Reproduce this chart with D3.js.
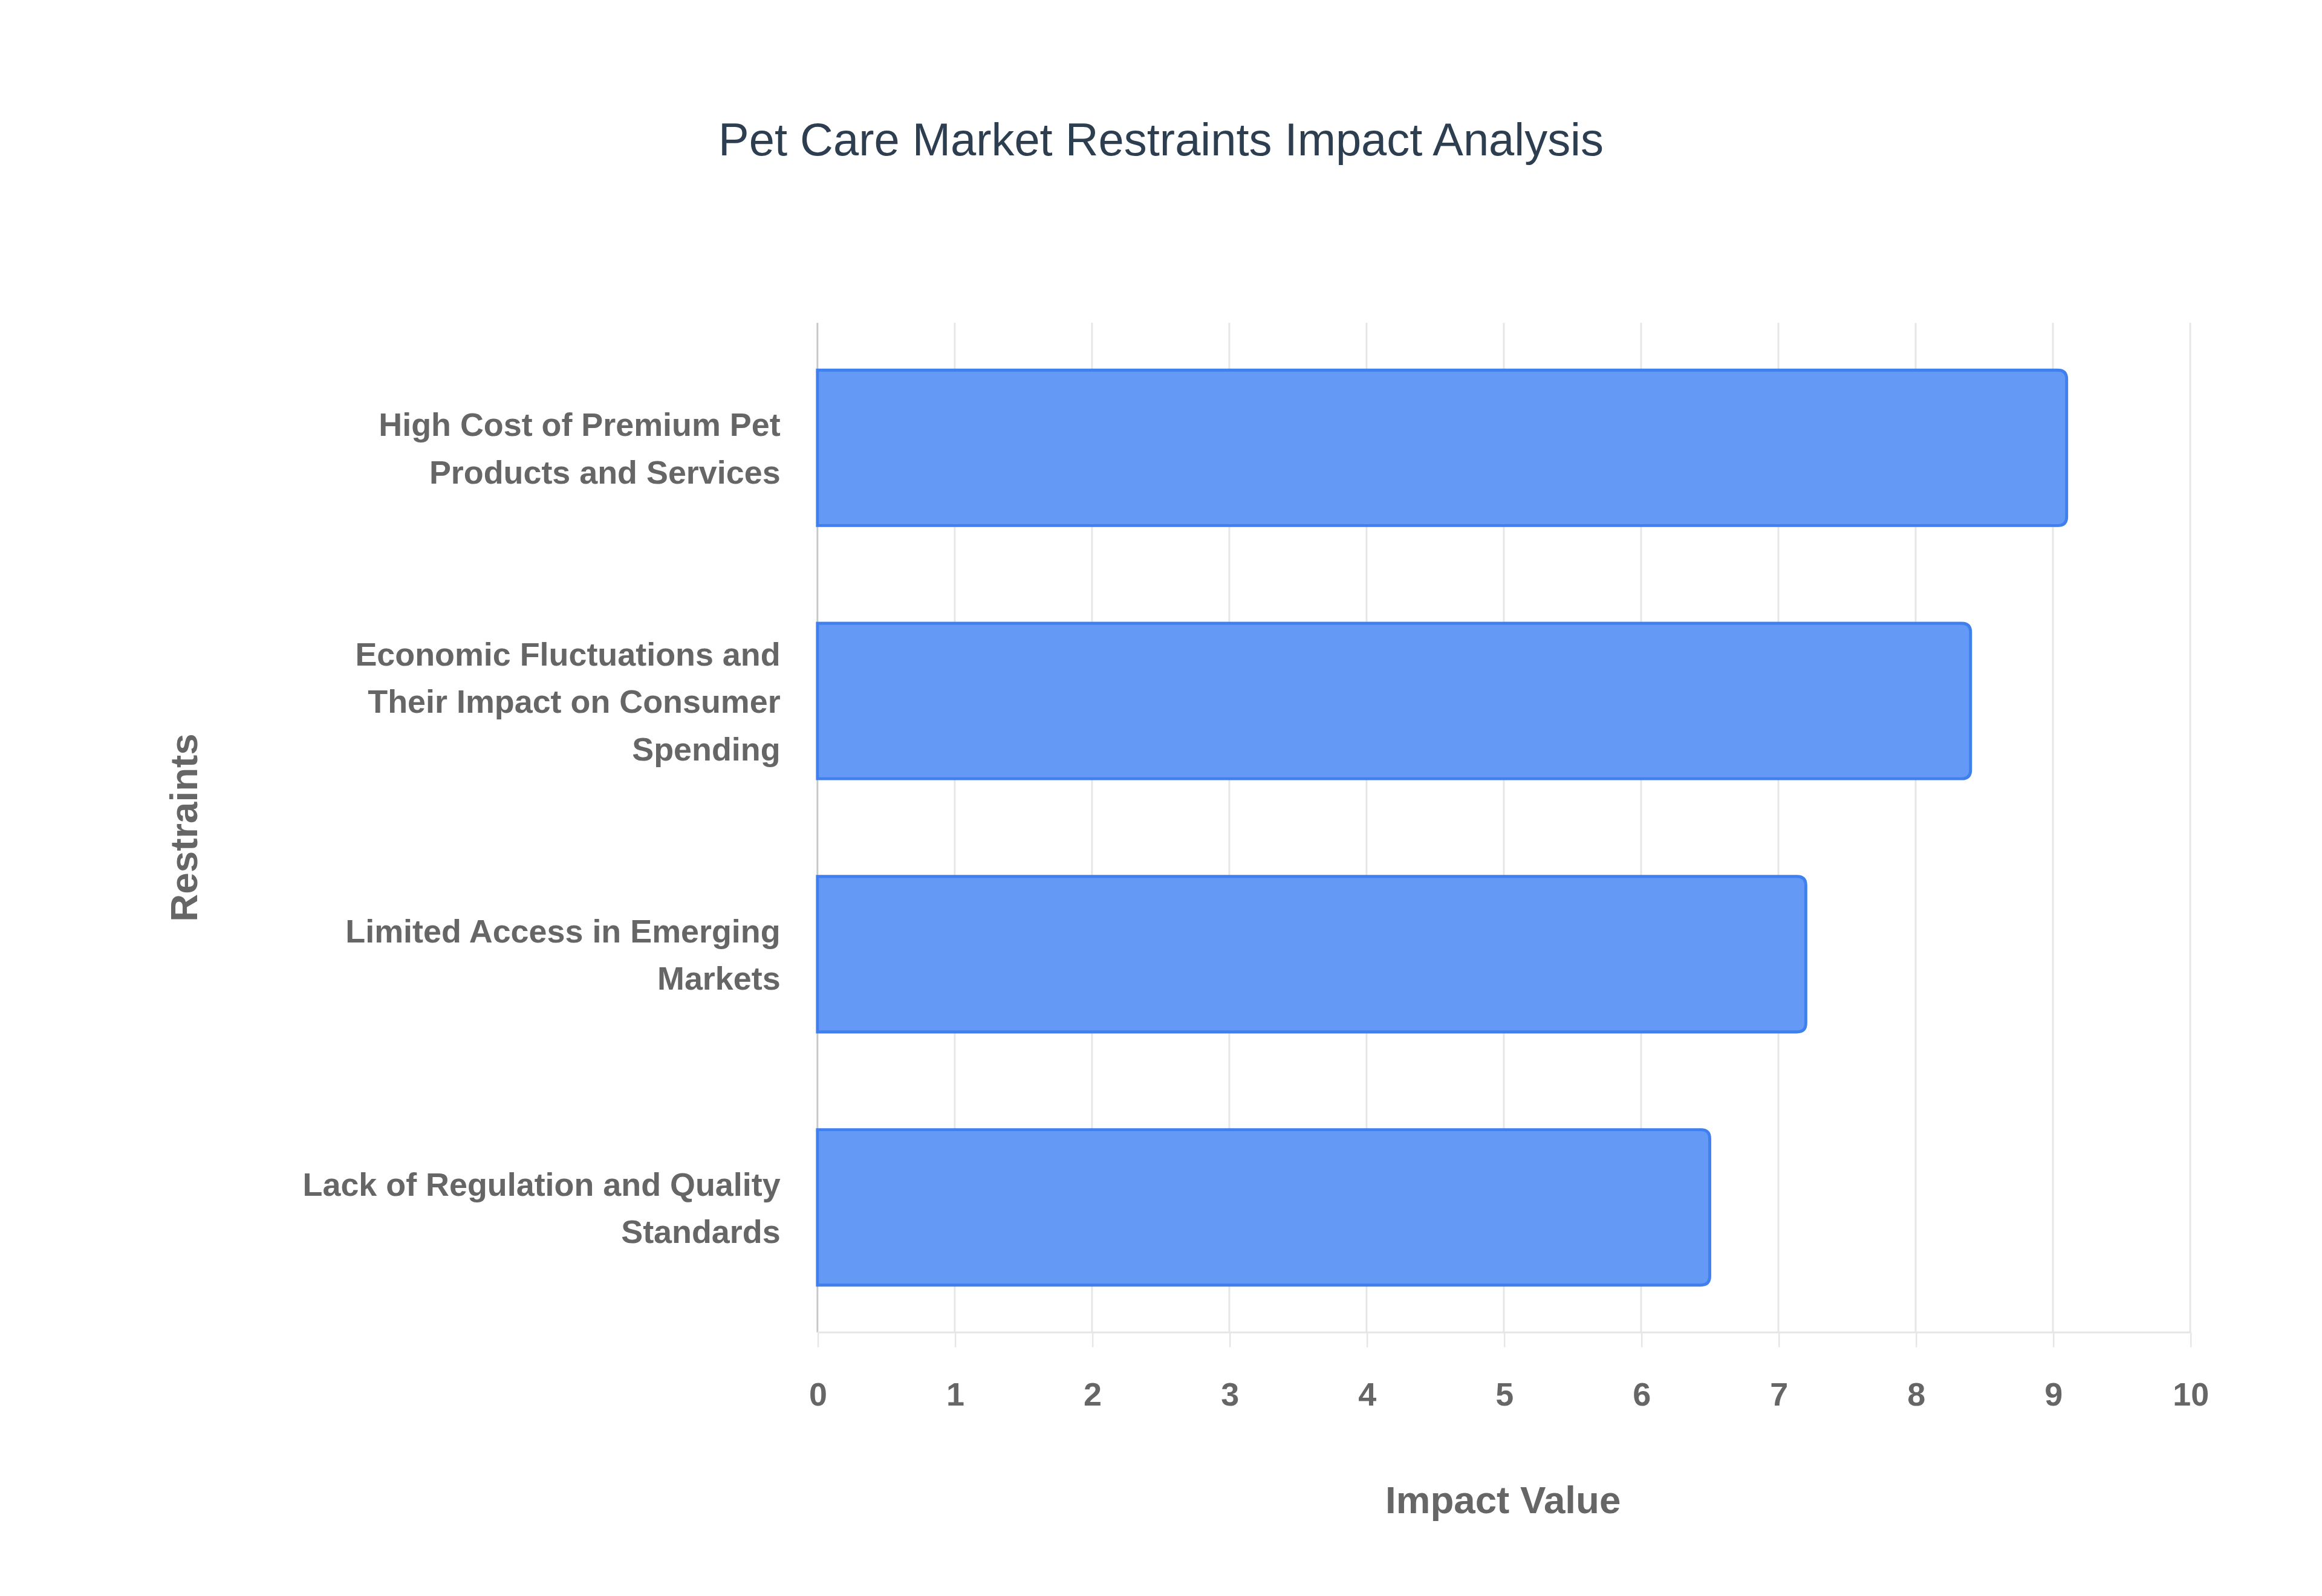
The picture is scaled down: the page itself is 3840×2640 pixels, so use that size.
<!DOCTYPE html>
<html>
<head>
<script src="https://d3js.org/d3.v7.min.js"></script>
<style>
  body { margin: 0; background: #fff; }
  text { font-family: "Liberation Sans", Arial, sans-serif; }
</style>
</head>
<body>
<div id="chart"></div>
<script>
const restraints = [
  "High Cost of Premium Pet Products and Services",
  "Economic Fluctuations and Their Impact on Consumer Spending",
  "Limited Access in Emerging Markets",
  "Lack of Regulation and Quality Standards"
];
const impactValues = [9.1, 8.4, 7.2, 6.5];
const xTicks = [0, 1, 2, 3, 4, 5, 6, 7, 8, 9, 10];

const W = 1568, H = 1078;
const margin = {top: 218, right: 89, bottom: 178, left: 552};

const svg = d3.select("#chart").append("svg")
  .attr("width", 3840).attr("height", 2640)
  .attr("viewBox", `0 0 ${W} ${H}`);

const x = d3.scaleLinear().domain([0, 10]).range([margin.left, W - margin.right]);
const y = d3.scaleBand().domain(restraints).range([margin.top, H - margin.bottom])
  .paddingInner(0.386).paddingOuter(0.187);

// grid
svg.append("g").selectAll("line").data(xTicks).enter().append("line")
  .attr("x1", d => x(d)).attr("x2", d => x(d))
  .attr("y1", margin.top).attr("y2", H - margin.bottom)
  .attr("stroke", d => d === 0 ? "#c8c8c8" : "#e6e6e6").attr("stroke-width", 1.2);
svg.append("line")
  .attr("x1", margin.left).attr("x2", W - margin.right)
  .attr("y1", H - margin.bottom).attr("y2", H - margin.bottom)
  .attr("stroke", "#e6e6e6").attr("stroke-width", 1.2);

// bars with rounded right end
const bars = restraints.map((r, i) => ({key: r, value: impactValues[i]}));
svg.append("g").selectAll("path").data(bars).enter().append("path")
  .attr("d", d => {
    const x0 = x(0), x1 = x(d.value), y0 = y(d.key), h = y.bandwidth(), r = 6;
    return `M${x0},${y0} H${x1 - r} Q${x1},${y0} ${x1},${y0 + r} V${y0 + h - r} Q${x1},${y0 + h} ${x1 - r},${y0 + h} H${x0} Z`;
  })
  .attr("fill", "#6499f6").attr("stroke", "#3f7fee").attr("stroke-width", 2);

// x axis
const xAxis = svg.append("g")
  .attr("transform", `translate(0,${H - margin.bottom})`)
  .call(d3.axisBottom(x).tickValues(xTicks).tickSize(10).tickFormat(d3.format("d")));
xAxis.select(".domain").remove();
xAxis.selectAll("line").attr("stroke", "#e6e6e6");
xAxis.selectAll("text").attr("fill", "#666").attr("font-size", 22)
  .attr("font-weight", "bold").attr("dy", "1.65em");

// y labels with wrapping
const labelG = svg.append("g");
restraints.forEach(r => {
  const t = labelG.append("text")
    .attr("text-anchor", "end").attr("fill", "#666")
    .attr("font-size", 22).attr("font-weight", "bold");
  const words = r.split(" ");
  const lines = [];
  let cur = [];
  const probe = t.append("tspan");
  words.forEach(w => {
    const test = cur.concat(w).join(" ");
    probe.text(test);
    if (probe.node().getComputedTextLength() > 330 && cur.length) {
      lines.push(cur.join(" "));
      cur = [w];
    } else cur.push(w);
  });
  lines.push(cur.join(" "));
  probe.remove();
  const lh = 32;
  const cy = y(r) + y.bandwidth() / 2;
  lines.forEach((l, i) => {
    t.append("tspan").attr("x", margin.left - 25)
      .attr("y", cy + (i - (lines.length - 1) / 2) * lh + 8).text(l);
  });
});

// titles
svg.append("text").attr("x", 784).attr("y", 105).attr("text-anchor", "middle")
  .attr("font-size", 31).attr("fill", "#2c3e50").text("Pet Care Market Restraints Impact Analysis");
svg.append("text").attr("x", 1015).attr("y", 1022).attr("text-anchor", "middle")
  .attr("font-size", 26).attr("font-weight", "bold").attr("fill", "#666").text("Impact Value");
svg.append("text").attr("transform", "translate(133,559) rotate(-90)").attr("text-anchor", "middle")
  .attr("font-size", 26).attr("font-weight", "bold").attr("fill", "#666").text("Restraints");
</script>
</body>
</html>
